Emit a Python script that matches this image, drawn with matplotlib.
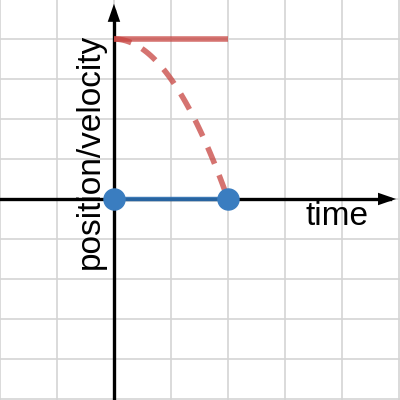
import matplotlib
matplotlib.use("Agg")
import matplotlib.pyplot as plt
import numpy as np

pos_x = [0, 2]
pos_y = [4, 4]
curve_x = np.linspace(0, 2, 60)
curve_y = 4 - curve_x**2
vel_x = [0, 2]
vel_y = [0, 0]

fig = plt.figure(figsize=(4, 4), dpi=100)
ax = fig.add_axes([0, 0, 1, 1])
ax.set_xlim(-2.0, 5.02)
ax.set_ylim(-5.025, 4.975)
for gx in range(-2, 6):
    ax.axvline(gx, color="#d4d4d4", lw=1.2, zorder=0)
for gy in range(-5, 5):
    ax.axhline(gy, color="#d4d4d4", lw=1.2, zorder=0)
ax.axis("off")
ax.plot([-2, 4.85], [0, 0], color="black", lw=2.4, zorder=2)
ax.plot([0, 0], [-5.1, 4.7], color="black", lw=2.4, zorder=2)
ax.annotate("", xy=(5.0, 0), xytext=(4.6, 0),
            arrowprops=dict(arrowstyle="-|>,head_length=1.3,head_width=0.45", color="black", lw=0), zorder=3)
ax.annotate("", xy=(0, 4.95), xytext=(0, 4.3),
            arrowprops=dict(arrowstyle="-|>,head_length=1.3,head_width=0.45", color="black", lw=0), zorder=3)

red = "#c74440"
ax.plot(pos_x, pos_y, color=red, lw=4, alpha=0.75, zorder=4, solid_capstyle="butt")
ax.plot(curve_x, curve_y, color=red, lw=4, alpha=0.75, ls=(0, (3.2, 2.2)), zorder=4)
ax.plot(vel_x, vel_y, color="#2d70b3", lw=3.2, alpha=0.9, zorder=5)
ax.scatter(vel_x, vel_y, s=230, color="#3a7dc0", zorder=6)

ax.text(3.91, -0.05, "time", fontsize=24, family="Liberation Sans", ha="center", va="top")
ax.text(-0.42, 1.2, "position/velocity", fontsize=24, family="Liberation Sans",
        rotation=90, ha="center", va="center")
fig.savefig("out.png", dpi=100)
